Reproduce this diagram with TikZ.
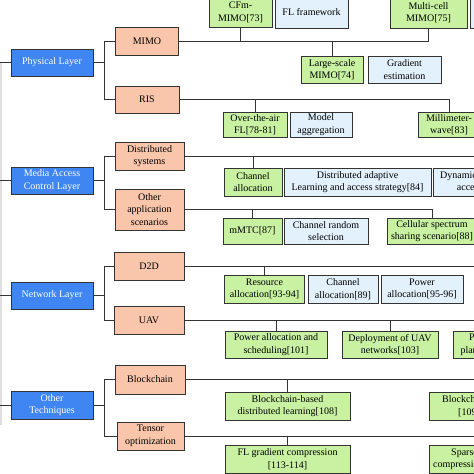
\documentclass[tikz,border=0pt]{standalone}
\usepackage{fontspec}
\setmainfont{Liberation Serif}
\definecolor{lblue1}{HTML}{3F86F2}
\definecolor{peach}{HTML}{F9C6AB}
\definecolor{lgreen}{HTML}{C8F2A2}
\definecolor{skyb}{HTML}{E2F1FB}
\definecolor{edge}{HTML}{333333}
\tikzset{
  box/.style={draw=edge, line width=0.9pt, align=center, inner sep=1pt,
    font={\fontsize{10pt}{12.5pt}\selectfont}},
  lone/.style={box, fill=lblue1, text=white, minimum width=82pt, minimum height=27pt},
  ltwo/.style={box, fill=peach, minimum height=28pt},
  gbox/.style={box, fill=lgreen, minimum height=27pt},
  bbox/.style={box, fill=skyb, minimum height=27pt},
  conn/.style={draw=edge, line width=1pt}
}
\begin{document}
\begin{tikzpicture}[x=1pt,y=-1pt]
\useasboundingbox (0,0) rectangle (474,474);
\clip (0,0) rectangle (474,474);
\fill[white] (0,0) rectangle (474,474);
% level 1
\node[lone] (phy) at (52,62.5) {Physical Layer};
\node[lone] (mac) at (52,180.5) {Media Access\\Control Layer};
\node[lone] (net) at (52,295.5) {Network Layer};
\node[lone, minimum height=28pt] (oth) at (52,405) {Other\\Techniques};
% level 2
\node[ltwo, minimum width=63pt] (mimo) at (147,41) {MIMO};
\node[ltwo, minimum width=64pt, minimum height=27pt] (ris) at (147,99.5) {RIS};
\node[ltwo, minimum width=69pt] (dist) at (149.5,156) {Distributed\\systems};
\node[ltwo, minimum width=69pt, minimum height=41pt] (oapp) at (149.5,209.5) {Other\\application\\scenarios};
\node[ltwo, minimum width=70pt] (d2d) at (149,266) {D2D};
\node[ltwo, minimum width=70pt] (uav) at (149,320) {UAV};
\node[ltwo, minimum width=70pt, minimum height=29pt] (blk) at (150,379.5) {Blockchain};
\node[ltwo, minimum width=67pt] (ten) at (150.5,436) {Tensor\\optimization};
% level 3 - MIMO
\node[gbox, minimum width=63pt, minimum height=30pt] (cfm) at (240.5,12.5) {CFm-\\MIMO[73]};
\node[bbox, minimum width=73pt, minimum height=31pt] (flf) at (311.5,12.5) {FL framework};
\node[gbox, minimum width=77pt, minimum height=31pt] (mcell) at (428.5,12.5) {Multi-cell\\MIMO[75]};
\node[bbox, minimum width=70pt, minimum height=31pt] (fltwo) at (505,12.5) {};
\node[gbox, minimum width=62pt] (lsm) at (332,69.5) {Large-scale\\MIMO[74]};
\node[bbox, minimum width=73pt] (grad) at (404.5,69.5) {Gradient\\estimation};
% RIS
\node[gbox, minimum width=64pt, minimum height=25pt] (ota) at (255,124.5) {Over-the-air\\FL[78-81]};
\node[bbox, minimum width=62pt, minimum height=25pt] (magg) at (321,124.5) {Model\\aggregation};
\node[gbox, minimum width=62pt, minimum height=25pt] (mmw) at (449,124.5) {Millimeter-\\wave[83]};
% Distributed systems
\node[gbox, minimum width=58pt, minimum height=28pt] (chal) at (253,182) {Channel\\allocation};
\node[bbox, minimum width=147pt, minimum height=28pt] (dals) at (357.5,182) {Distributed adaptive\\Learning and access strategy[84]};
\node[bbox, minimum width=90pt, minimum height=28pt] (dyn) at (478,182) {Dynamic spectrum\\access[85]};
% Other application scenarios
\node[gbox, minimum width=59pt, minimum height=26pt] (mmtc) at (252.5,231) {mMTC[87]};
\node[bbox, minimum width=84pt, minimum height=26pt] (crs) at (326,231) {Channel random\\selection};
\node[gbox, minimum width=90pt, minimum height=26pt] (css) at (432,231) {Cellular spectrum\\sharing scenario[88]};
% D2D
\node[gbox, minimum width=80pt, minimum height=28pt] (ra) at (264.5,289) {Resource\\allocation[93-94]};
\node[bbox, minimum width=70pt, minimum height=28pt] (ca) at (343,289) {Channel\\allocation[89]};
\node[bbox, minimum width=82pt, minimum height=28pt] (pa) at (422,289) {Power\\allocation[95-96]};
% UAV
\node[gbox, minimum width=102pt] (pas) at (276,344.5) {Power allocation and\\scheduling[101]};
\node[gbox, minimum width=96pt] (dep) at (390,344.5) {Deployment of UAV\\networks[103]};
\node[gbox, minimum width=50pt] (path) at (478,344.5) {Path\\planning};
% Blockchain
\node[gbox, minimum width=125pt, minimum height=28pt] (bdl) at (287.5,406) {Blockchain-based\\distributed learning[108]};
\node[gbox, minimum width=98pt, minimum height=28pt] (bfl) at (478,406) {Blockchain-based\\{[109-112]}};
% Tensor
\node[gbox, minimum width=125pt, minimum height=28pt] (fgc) at (287.5,459) {FL gradient compression\\{[113-114]}};
\node[gbox, minimum width=98pt, minimum height=28pt] (stc) at (478,459) {Sparse tensor\\compression[115-117]};
% trunk at left
\draw[gray!25, line width=2pt] (1,62.5) -- (1,425);
\coordinate (tx) at (0,0);
\coordinate (bx) at (104,0);
\foreach \n in {phy,mac,net,oth}{
  \draw[conn] (\n.west -| tx) -- (\n.west);
  \draw[conn] (\n.east) -- (\n.east -| bx);
}
\draw[conn] (mimo.west) -- (mimo.west -| bx) -- (ris.west -| bx) -- (ris.west);
\draw[conn] (dist.west) -- (dist.west -| bx) -- (oapp.west -| bx) -- (oapp.west);
\draw[conn] (d2d.west) -- (d2d.west -| bx) -- (uav.west -| bx) -- (uav.west);
\draw[conn] (blk.west) -- (blk.west -| bx) -- (ten.west -| bx) -- (ten.west);
% row connectors
\draw[conn] (mimo.east) -- (mcell.south |- mimo.east) -- (mcell.south);
\draw[conn] (cfm.south) -- (cfm.south |- mimo.east);
\draw[conn] (lsm.north) -- (lsm.north |- mimo.east);
\draw[conn] (ris.east) -- (mmw.north |- ris.east) -- (mmw.north);
\draw[conn] (ota.north) -- (ota.north |- ris.east);
\draw[conn] (dist.east) -- (dyn.north |- dist.east) -- (dyn.north);
\draw[conn] (chal.north) -- (chal.north |- dist.east);
\draw[conn] (oapp.east) -- (css.north |- oapp.east) -- (css.north);
\draw[conn] (mmtc.north) -- (mmtc.north |- oapp.east);
\coordinate (dend) at (500,266);
\draw[conn] (d2d.east) -- (dend);
\draw[conn] (ra.north) -- (ra.north |- d2d.east);
\draw[conn] (uav.east) -- (path.north |- uav.east) -- (path.north);
\draw[conn] (pas.north) -- (pas.north |- uav.east);
\draw[conn] (dep.north) -- (dep.north |- uav.east);
\draw[conn] (blk.east) -- (bfl.north |- blk.east) -- (bfl.north);
\draw[conn] (bdl.north) -- (bdl.north |- blk.east);
\draw[conn] (ten.east) -- (stc.north |- ten.east) -- (stc.north);
\draw[conn] (fgc.north) -- (fgc.north |- ten.east);
\end{tikzpicture}
\end{document}
